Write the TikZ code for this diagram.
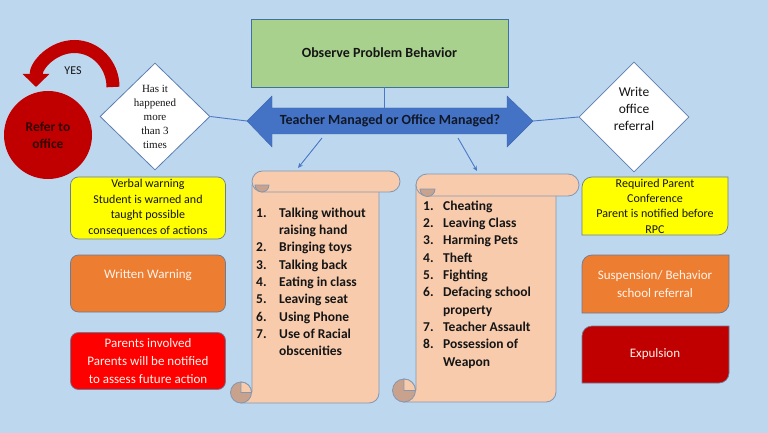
\documentclass[tikz,border=0pt]{standalone}
\usepackage{fontspec}
\setmainfont{Carlito}
\newfontfamily\tnr{Liberation Serif}
\usetikzlibrary{shapes.geometric,arrows.meta,calc}
\definecolor{bg}{HTML}{BDD7EE}
\definecolor{greenfill}{HTML}{A9D18E}
\definecolor{greenborder}{HTML}{41719C}
\definecolor{arrowblue}{HTML}{4472C4}
\definecolor{lineblue}{HTML}{4A78C8}
\definecolor{diaborder}{HTML}{5B7DB1}
\definecolor{yel}{HTML}{FFFF00}
\definecolor{orng}{HTML}{ED7D31}
\definecolor{brightred}{HTML}{FF0000}
\definecolor{darkred}{HTML}{C00000}
\definecolor{peach}{HTML}{F8CBAD}
\definecolor{tan}{HTML}{C8A28C}
\definecolor{scrollline}{HTML}{8497B0}
\definecolor{boxline}{HTML}{6B7C96}
\definecolor{textdark}{HTML}{151515}
\definecolor{lighttext}{HTML}{FFF4EC}
\definecolor{navytext}{HTML}{101828}
\definecolor{referText}{HTML}{330000}
\begin{document}
\begin{tikzpicture}[x=1pt,y=-1pt,
  conn/.style={draw=lineblue, line width=0.9pt},
  boxline/.style={draw=boxline, line width=0.7pt},
  txt/.style={inner sep=0pt, align=center, text=textdark},
  scrollbody/.style={fill=peach, draw=scrollline, line width=0.8pt},
  curlfill/.style={fill=tan, draw=scrollline, line width=0.8pt},
  dia/.style={diamond, draw=diaborder, fill=white, line width=0.8pt, inner sep=0pt},
  leftbox/.style={boxline, rounded corners=8pt, minimum width=155pt, inner sep=0pt, align=center},
  listfont/.style={font=\fontsize{13.5}{17.3}\selectfont\bfseries, text=textdark, inner sep=0pt, anchor=north west},
]
\useasboundingbox (0,0) rectangle (768,433);
\fill[bg] (0,0) rectangle (768,433);

% --- top box
\node[draw=greenborder, fill=greenfill, line width=0.9pt, minimum width=257pt, minimum height=68pt, inner sep=0pt,
      font=\fontsize{14}{16}\selectfont\bfseries, text=textdark] (obs) at (379.5,53) {Observe Problem Behavior};

% --- double arrow
\filldraw[fill=arrowblue, draw=arrowblue!90!black, line width=0.4pt]
  (247,121) -- (272,96) -- (272,108) -- (507,108) -- (507,96) -- (533,121)
  -- (507,147) -- (507,134) -- (272,134) -- (272,147) -- cycle;
\node[minimum width=286pt, minimum height=51pt, inner sep=0pt,
      font=\fontsize{14}{16}\selectfont\bfseries, text=navytext] (tom) at (390,121) {Teacher Managed or Office Managed?};

\coordinate (shaft) at (384,108);
\draw[conn] (obs.south -| shaft) -- (shaft);

% --- diamonds
\node[dia, minimum width=110pt, minimum height=107pt] (ldia) at (155,116.5) {};
\node[txt, font=\tnr\fontsize{11}{14}\selectfont] (ldiat) at (155,116.5) {Has it\\happened\\more\\than 3\\times};
\node[dia, minimum width=110pt, minimum height=110pt] (rdia) at (634,117) {};
\node[txt, font=\fontsize{13.5}{17}\selectfont] (rdiat) at (634,109) {Write\\office\\referral};

\draw[conn] (ldia.east) -- (tom.west);
\draw[conn] (tom.east) -- (rdia.west);

% --- refer to office circle and curved arrow
\node[circle, fill=darkred, minimum size=88pt, inner sep=0pt, align=center,
      font=\fontsize{13.5}{17}\selectfont\bfseries, text=referText] (refer) at (48,135) {Refer to\\office};
\draw[darkred, line width=13pt, -{Triangle[width=26pt,length=13pt]}]
  (113,87) .. controls (113,64.7) and (95.8,46.5) .. (74.5,46.5)
  .. controls (53.2,46.5) and (36,64.7) .. (36,87);
\node[txt, font=\fontsize{12}{14}\selectfont] (yes) at (73,71) {YES};

% --- left boxes
\node[leftbox, fill=yel, minimum height=62pt, font=\fontsize{12}{15.5}\selectfont, text=textdark] (verbal) at (148,208)
  {Verbal warning\\Student is warned and\\taught possible\\consequences of actions};
\node[leftbox, fill=orng, minimum height=57pt] (wwbox) at (148,283.5) {};
\node[txt, font=\fontsize{13}{15}\selectfont, text=lighttext] (ww) at (148,275) {Written Warning};
\node[leftbox, fill=brightred, minimum height=57pt, font=\fontsize{13}{18}\selectfont, text=lighttext] (parents) at (148,361)
  {Parents involved\\Parents will be notified\\to assess future action};

% --- right boxes (round diagonal corners)
\filldraw[fill=yel, boxline] (582,235) -- (582,187) arc[start angle=180,end angle=90,radius=10pt]
  -- (728,177) -- (728,225) arc[start angle=0,end angle=-90,radius=10pt] -- cycle;
\node[txt, font=\fontsize{12}{15.3}\selectfont] (rpc) at (655,206) {Required Parent\\Conference\\Parent is notified before\\RPC};
\filldraw[fill=orng, boxline] (582,313) -- (582,265) arc[start angle=180,end angle=90,radius=10pt]
  -- (729,255) -- (729,303) arc[start angle=0,end angle=-90,radius=10pt] -- cycle;
\node[txt, font=\fontsize{13}{18}\selectfont, text=lighttext] (susp) at (655,284) {Suspension/ Behavior\\school referral};
\filldraw[fill=darkred, boxline] (582,383) -- (582,336) arc[start angle=180,end angle=90,radius=10pt]
  -- (729,326) -- (729,373) arc[start angle=0,end angle=-90,radius=10pt] -- cycle;
\node[txt, font=\fontsize{13}{15}\selectfont, text=lighttext] (expul) at (655,354) {Expulsion};

% --- scroll 1
\filldraw[scrollbody] (252,185) -- (379,185) -- (379,393) arc[start angle=0,end angle=-90,radius=10pt]
  -- (241,403) -- (241,392) -- (252,392) -- cycle;
\filldraw[curlfill] (241,392.5) circle (10.5pt);
\draw[scrollline, line width=0.8pt, fill=peach] (241,392.5) -- (251.5,392.5) arc[start angle=0,end angle=90,radius=10.5pt] -- cycle;
\filldraw[scrollbody, rounded corners=10.5pt] (252,171) rectangle (400,192);
\filldraw[curlfill] (255,185) arc[start angle=180,end angle=360,radius=7pt] -- cycle;
\node[listfont] (list1) at (256,205) {%
  \begin{tabular}{@{}p{23pt}@{}l@{}}
  1. & Talking without\\
     & raising hand\\
  2. & Bringing toys\\
  3. & Talking back\\
  4. & Eating in class\\
  5. & Leaving seat\\
  6. & Using Phone\\
  7. & Use of Racial\\
     & obscenities
  \end{tabular}};

% --- scroll 2
\filldraw[scrollbody] (416,185) -- (556,185) -- (556,392) arc[start angle=0,end angle=-90,radius=10pt]
  -- (403,402) -- (403,390) -- (416,390) -- cycle;
\filldraw[curlfill] (404,390.5) circle (11.5pt);
\draw[scrollline, line width=0.8pt, fill=peach] (404,390.5) -- (415.5,390.5) arc[start angle=0,end angle=90,radius=11.5pt] -- cycle;
\filldraw[scrollbody, rounded corners=11pt] (416,174) rectangle (579,196);
\filldraw[curlfill] (420,189) arc[start angle=180,end angle=360,radius=7.5pt] -- cycle;
\node[listfont] (list2) at (423,198) {%
  \begin{tabular}{@{}p{20pt}@{}l@{}}
  1. & Cheating\\
  2. & Leaving Class\\
  3. & Harming Pets\\
  4. & Theft\\
  5. & Fighting\\
  6. & Defacing school\\
     & property\\
  7. & Teacher Assault\\
  8. & Possession of\\
     & Weapon
  \end{tabular}};

% --- thin arrows to scrolls
\coordinate (la) at (322,138);
\coordinate (s1top) at (298,168);
\coordinate (ra) at (458,138);
\coordinate (s2top) at (477,171);
\draw[conn, -{Stealth[length=5pt,width=4.5pt]}] (la) -- (s1top);
\draw[conn, -{Stealth[length=5pt,width=4.5pt]}] (ra) -- (s2top);
\end{tikzpicture}
\end{document}
